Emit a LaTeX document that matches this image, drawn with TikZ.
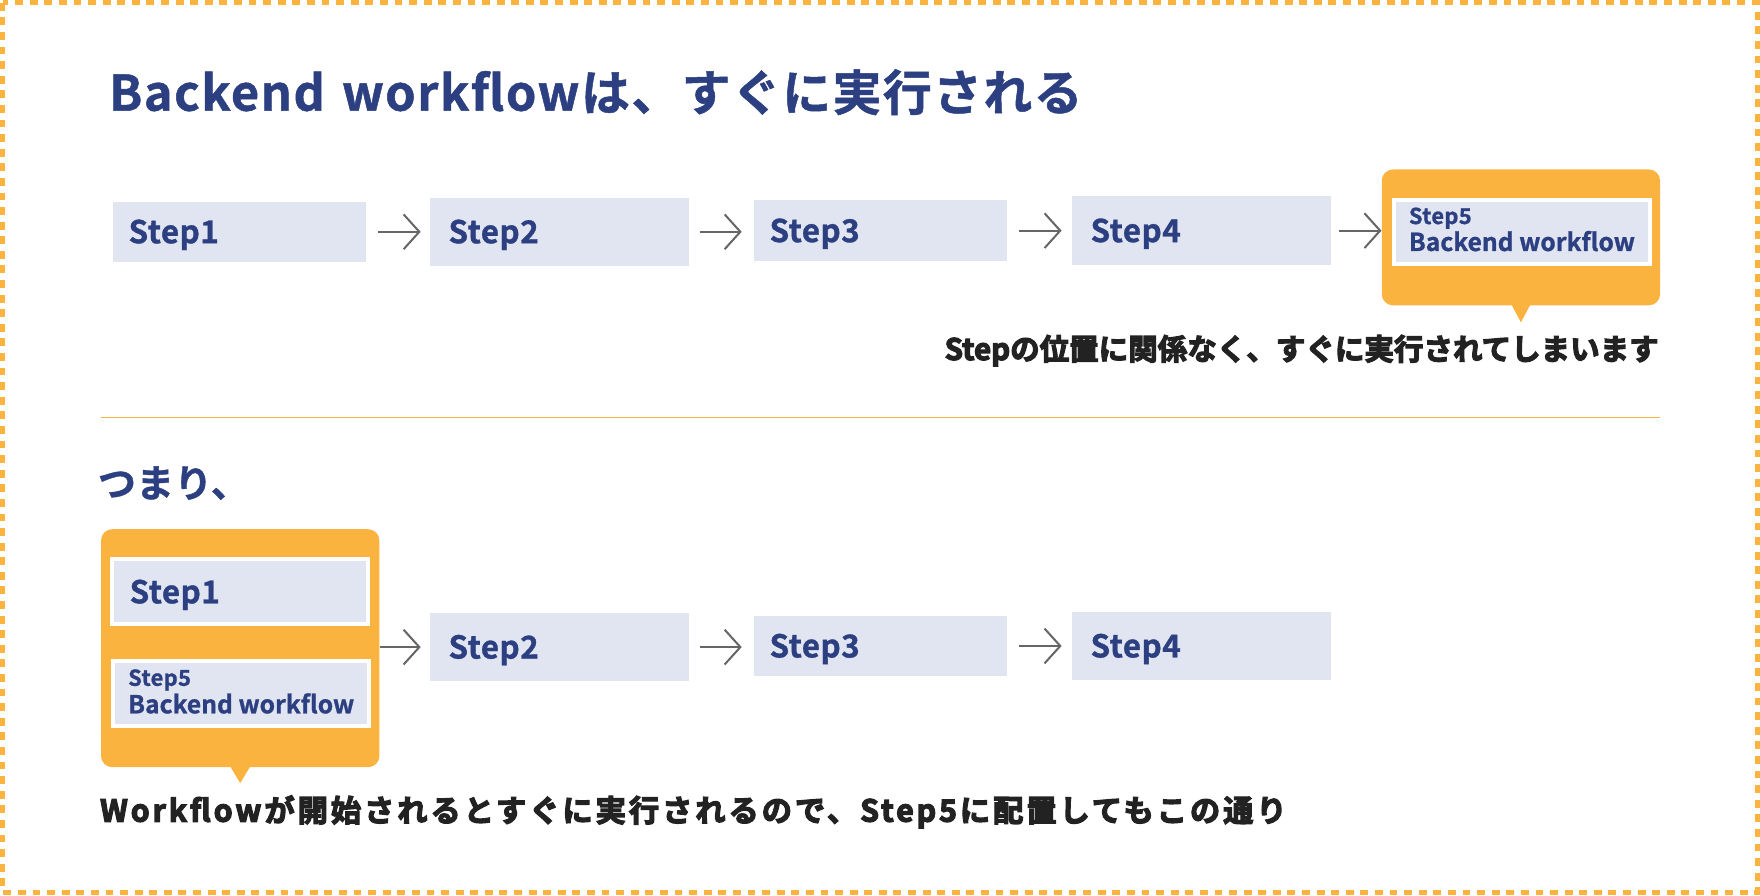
\documentclass[tikz,border=0pt]{standalone}
\usepackage{fontspec}
\setmainfont{Noto Sans CJK JP Bold}[FakeBold=1]
\newfontfamily\jpheavy[FakeBold=4]{Noto Sans CJK JP Bold}
\usetikzlibrary{arrows.meta}
\definecolor{navy}{HTML}{2C3F80}
\definecolor{org}{HTML}{FBB340}
\definecolor{lav}{HTML}{E1E5F2}
\definecolor{ink}{HTML}{222222}
\definecolor{arrgray}{HTML}{666666}
\begin{document}
\begin{tikzpicture}[x=1pt,y=-1pt,
  stepbox/.style={fill=lav, inner sep=0pt, draw=none},
  inbox/.style={fill=lav, draw=white, line width=3.5pt, inner sep=0pt},
  callout/.style={fill=org, rounded corners=10pt, inner sep=0pt},
  steptxt/.style={anchor=base west, inner sep=0pt, text=navy, font=\fontsize{28}{31}\selectfont\addfontfeature{LetterSpace=1.5}},
  smalltxt/.style={anchor=base west, inner sep=0pt, text=navy, font=\fontsize{19.5}{22}\selectfont\addfontfeature{LetterSpace=1.5}},
  midtxt/.style={anchor=base west, inner sep=0pt, text=navy, font=\fontsize{22}{26}\selectfont},
  heading/.style={inner sep=0pt, text=navy},
  note/.style={inner sep=0pt, text=ink},
  arr/.style={draw=arrgray, line width=1.8pt, -{Straight Barb[length=14pt,width=31pt]}}
]
\useasboundingbox (0,0) rectangle (1568,797.4);
\draw[org, line width=4.5pt, dash pattern=on 7pt off 6pt] (2.5,2.5) rectangle (1565.5,795);

% title
\node[heading, anchor=base west, font=\fontsize{43.5}{48}\selectfont\addfontfeature{LetterSpace=3}] (title) at (97,98.6) {Backend\hspace{4pt} workflowは、すぐに実行される};

% row 1
\node[stepbox, minimum width=225pt, minimum height=53pt] (a1) at (213.5,206.5) {};
\node[stepbox, minimum width=231pt, minimum height=61pt] (a2) at (498.5,206.5) {};
\node[stepbox, minimum width=225pt, minimum height=54pt] (a3) at (784.5,205.5) {};
\node[stepbox, minimum width=231pt, minimum height=61pt] (a4) at (1070.5,205.5) {};
\node[steptxt] at ([xshift=13.6pt,yshift=-10.2pt]a1.west) {Step1};
\node[steptxt] at ([xshift=16.6pt,yshift=-10.2pt]a2.west) {Step2};
\node[steptxt] at ([xshift=13.6pt,yshift=-10.2pt]a3.west) {Step3};
\node[steptxt] at ([xshift=16.6pt,yshift=-10.2pt]a4.west) {Step4};

\node[callout, minimum width=248pt, minimum height=121pt] (c5) at (1355,211.5) {};
\fill[org] ([xshift=-8.5pt,yshift=1pt]c5.south) -- ++(8.5,16) -- ++(8.5,-16) -- cycle;
\node[inbox, minimum width=228pt, minimum height=57pt] (i5) at (1356,206.5) {};
\node[smalltxt] at (1255,199.6) {Step5};
\node[midtxt] at (1255,223.6) {Backend workflow};

\draw[arr, shorten <=11pt, shorten >=8pt] (a1.east) -- (a1.east -| a2.west);
\draw[arr, shorten <=9pt, shorten >=11pt] (a2.east) -- (a2.east -| a3.west);
\draw[arr, shorten <=11pt, shorten >=9pt] (a3.east) -- (a3.east -| a4.west);
\draw[arr, shorten <=7pt] (a4.east) -- (a4.east -| c5.west);

\node[note, anchor=base east, font=\jpheavy\fontsize{26.3}{30}\selectfont] (n1) at (1478,320.7) {Stepの位置に関係なく、すぐに実行されてしまいます};

\draw[org, line width=1pt] (90,372) -- (1479,372);

\node[heading, anchor=base west, font=\fontsize{34}{40}\selectfont] (tsumari) at (87,443) {つまり、};

% row 2
\node[callout, minimum width=248pt, minimum height=212pt] (c2) at (214,577.5) {};
\fill[org] ([xshift=-9pt,yshift=1pt]c2.south) -- ++(9,15) -- ++(9,-15) -- cycle;
\node[inbox, minimum width=228pt, minimum height=58pt] (b1) at (213.8,526.9) {};
\node[steptxt] at (115.3,537.5) {Step1};
\node[inbox, minimum width=228pt, minimum height=58pt] (b5) at (214.7,617.8) {};
\node[smalltxt] at (114,611) {Step5};
\node[midtxt] at (114,635.5) {Backend workflow};

\node[stepbox, minimum width=231pt, minimum height=61pt] (b2) at (498.5,576.5) {};
\node[stepbox, minimum width=225pt, minimum height=54pt] (b3) at (784.5,575.5) {};
\node[stepbox, minimum width=231pt, minimum height=61pt] (b4) at (1070.5,575.5) {};
\node[steptxt] at ([xshift=16.6pt,yshift=-10.2pt]b2.west) {Step2};
\node[steptxt] at ([xshift=13.6pt,yshift=-10.2pt]b3.west) {Step3};
\node[steptxt] at ([xshift=16.6pt,yshift=-10.2pt]b4.west) {Step4};

\draw[arr, shorten >=8pt] (b2.west -| c2.east) -- (b2.west);
\draw[arr, shorten <=9pt, shorten >=11pt] (b2.east) -- (b2.east -| b3.west);
\draw[arr, shorten <=11pt, shorten >=9pt] (b3.east) -- (b3.east -| b4.west);

\node[note, anchor=base west, font=\jpheavy\fontsize{27}{30}\selectfont\addfontfeature{LetterSpace=9.6}] (n2) at (89,732) {Workflowが開始されるとすぐに実行されるので、Step5に配置してもこの通り};
\end{tikzpicture}
\end{document}
